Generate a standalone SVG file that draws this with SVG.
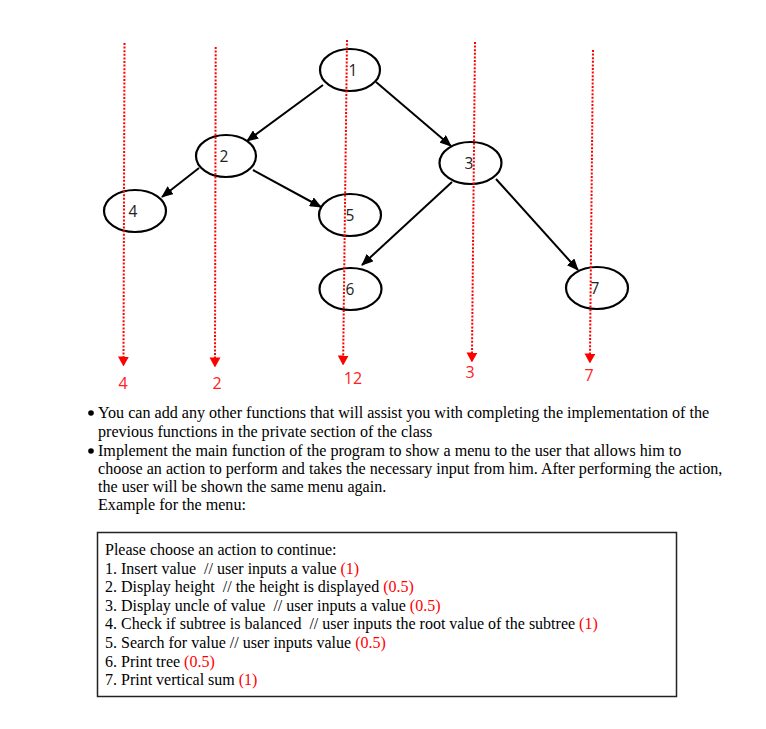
<svg xmlns="http://www.w3.org/2000/svg" width="766" height="729" viewBox="0 0 766 729">
<defs>
<style>
.node ellipse{fill:#fff;stroke:#000;stroke-width:2.2}
.node text{font-family:"Open Sans","Liberation Sans",sans-serif;font-size:15.5px;fill:#222}
.edge{stroke:#000;stroke-width:2;fill:none}
.vline{stroke:#ff0000;stroke-width:2;stroke-dasharray:2 1.6;fill:none}
.vlabel{font-family:"Open Sans","Liberation Sans",sans-serif;font-size:16px;fill:#ff2020}
.body{font-family:"Liberation Serif","Times New Roman",serif;font-size:16.1px;fill:#000}
.menu{font-family:"Liberation Serif","Times New Roman",serif;font-size:16px;fill:#000}
.red{fill:#ff0000}
</style>
<marker id="ah" markerUnits="userSpaceOnUse" viewBox="0 0 12 10" markerWidth="12" markerHeight="10" refX="11" refY="5" orient="auto">
<path d="M0,0 L12,5 L0,10 z" fill="#000"/>
</marker>
<marker id="rh" markerUnits="userSpaceOnUse" viewBox="0 0 10 11" markerWidth="10" markerHeight="11" refX="0.5" refY="5.5" orient="auto">
<path d="M0,0 L10,5.5 L0,11 z" fill="#ff0000"/>
</marker>
</defs>
<rect width="766" height="729" fill="#fff"/>

<g id="connectors">
<line class="edge" x1="323" y1="85" x2="247" y2="141" marker-end="url(#ah)"/>
<line class="edge" x1="199" y1="168" x2="162" y2="197" marker-end="url(#ah)"/>
<line class="edge" x1="253" y1="170" x2="321" y2="207" marker-end="url(#ah)"/>
<line class="edge" x1="376" y1="82" x2="451" y2="146" marker-end="url(#ah)"/>
<line class="edge" x1="452" y1="182" x2="362" y2="265" marker-end="url(#ah)"/>
<line class="edge" x1="496" y1="179" x2="578" y2="270" marker-end="url(#ah)"/>
</g>

<g id="node-1" class="node"><ellipse cx="350" cy="70" rx="30" ry="21"/><text x="353" y="75.5" text-anchor="middle">1</text></g>
<g id="node-2" class="node"><ellipse cx="226" cy="156" rx="30" ry="21"/><text x="224" y="161.5" text-anchor="middle">2</text></g>
<g id="node-3" class="node"><ellipse cx="470.5" cy="163" rx="31" ry="21"/><text x="469" y="168.5" text-anchor="middle">3</text></g>
<g id="node-4" class="node"><ellipse cx="135" cy="211" rx="31" ry="21"/><text x="133" y="216.5" text-anchor="middle">4</text></g>
<g id="node-5" class="node"><ellipse cx="350" cy="215" rx="31" ry="21"/><text x="350" y="220.5" text-anchor="middle">5</text></g>
<g id="node-6" class="node"><ellipse cx="350.5" cy="289" rx="31" ry="21"/><text x="350" y="294.5" text-anchor="middle">6</text></g>
<g id="node-7" class="node"><ellipse cx="597" cy="288" rx="31" ry="21"/><text x="595" y="293.5" text-anchor="middle">7</text></g>

<g id="vertical-sums">
<line class="vline" x1="124.5" y1="43" x2="123.5" y2="357" marker-end="url(#rh)"/>
<line class="vline" x1="215.7" y1="47" x2="215" y2="358" marker-end="url(#rh)"/>
<line class="vline" x1="347" y1="40" x2="343.2" y2="356" marker-end="url(#rh)"/>
<line class="vline" x1="475" y1="42" x2="472" y2="353" marker-end="url(#rh)"/>
<line class="vline" x1="593" y1="50" x2="590" y2="354" marker-end="url(#rh)"/>
<text class="vlabel" x="123" y="389" text-anchor="middle">4</text>
<text class="vlabel" x="217" y="389" text-anchor="middle">2</text>
<text class="vlabel" x="353" y="384" text-anchor="middle">12</text>
<text class="vlabel" x="470" y="378" text-anchor="middle">3</text>
<text class="vlabel" x="589" y="381" text-anchor="middle">7</text>
</g>

<g id="description" class="body">
<circle cx="91" cy="413" r="2.8" fill="#000"/>
<text x="98" y="418">You can add any other functions that will assist you with completing the implementation of the</text>
<text x="98" y="436.5">previous functions in the private section of the class</text>
<circle cx="91" cy="451" r="2.8" fill="#000"/>
<text x="98" y="456">Implement the main function of the program to show a menu to the user that allows him to</text>
<text x="98" y="474">choose an action to perform and takes the necessary input from him. After performing the action,</text>
<text x="98" y="492">the user will be shown the same menu again.</text>
<text x="98" y="510">Example for the menu:</text>
</g>

<g id="menu-box">
<rect x="97.5" y="532.5" width="579" height="164" fill="#fff" stroke="#222" stroke-width="1.5"/>
<g class="menu">
<text x="105" y="555">Please choose an action to continue:</text>
<text x="105" y="573.6">1. Insert value &#160;// user inputs a value <tspan class="red">(1)</tspan></text>
<text x="105" y="592.2">2. Display height &#160;// the height is displayed <tspan class="red">(0.5)</tspan></text>
<text x="105" y="610.8">3. Display uncle of value &#160;// user inputs a value <tspan class="red">(0.5)</tspan></text>
<text x="105" y="629.4">4. Check if subtree is balanced &#160;// user inputs the root value of the subtree <tspan class="red">(1)</tspan></text>
<text x="105" y="648">5. Search for value // user inputs value <tspan class="red">(0.5)</tspan></text>
<text x="105" y="666.6">6. Print tree <tspan class="red">(0.5)</tspan></text>
<text x="105" y="685.2">7. Print vertical sum <tspan class="red">(1)</tspan></text>
</g>
</g>
</svg>
